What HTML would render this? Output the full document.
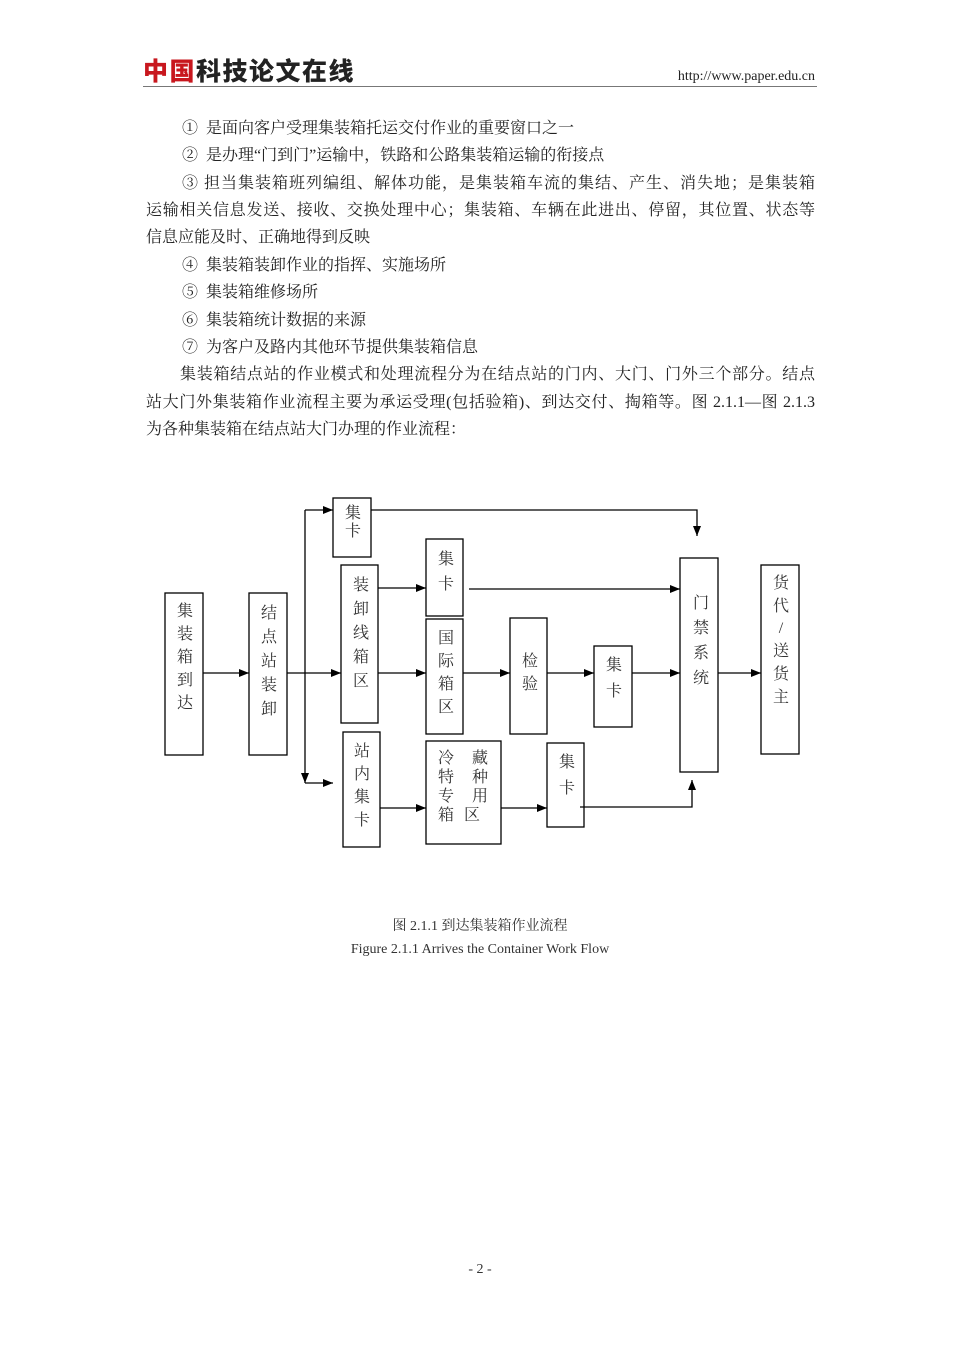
<!DOCTYPE html>
<html><head><meta charset="utf-8"><style>
body{margin:0;background:#fff;}
#p{position:relative;width:960px;height:1357px;overflow:hidden;background:#fff;font-family:"Liberation Serif","Noto Serif CJK SC","Noto Sans CJK SC",serif;color:#222;}
.l{position:absolute;font-size:16px;line-height:20px;white-space:nowrap;}
.j{left:146px;width:669px;text-align:justify;text-align-last:justify;}
.i{left:182px;}
</style></head><body><div id="p">
<div style="position:absolute;left:143px;top:55px;font-family:'Noto Sans CJK SC',sans-serif;font-weight:900;font-size:25px;line-height:30px;letter-spacing:1.5px"><span style="color:#c8171e">中国</span><span style="color:#222">科技论文在线</span></div>
<div class="l" style="right:145px;top:67px;font-size:14px;">http://www.paper.edu.cn</div>
<div style="position:absolute;left:143px;top:86px;width:674px;height:1px;background:#777"></div>

<div class="l i" style="top:119px">①&nbsp; 是面向客户受理集装箱托运交付作业的重要窗口之一</div>
<div class="l i" style="top:146px">②&nbsp; 是办理“门到门”运输中，铁路和公路集装箱运输的衔接点</div>
<div class="l j" style="top:174px;left:182px;width:633px">③ 担当集装箱班列编组、解体功能，是集装箱车流的集结、产生、消失地；是集装箱</div>
<div class="l j" style="top:201px">运输相关信息发送、接收、交换处理中心；集装箱、车辆在此进出、停留，其位置、状态等</div>
<div class="l" style="left:146px;top:228px">信息应能及时、正确地得到反映</div>
<div class="l i" style="top:256px">④&nbsp; 集装箱装卸作业的指挥、实施场所</div>
<div class="l i" style="top:283px">⑤&nbsp; 集装箱维修场所</div>
<div class="l i" style="top:311px">⑥&nbsp; 集装箱统计数据的来源</div>
<div class="l i" style="top:338px">⑦&nbsp; 为客户及路内其他环节提供集装箱信息</div>
<div class="l j" style="top:365px;left:180px;width:635px">集装箱结点站的作业模式和处理流程分为在结点站的门内、大门、门外三个部分。结点</div>
<div class="l j" style="top:393px">站大门外集装箱作业流程主要为承运受理(包括验箱)、到达交付、掏箱等。图 2.1.1—图 2.1.3</div>
<div class="l" style="left:146px;top:420px">为各种集装箱在结点站大门办理的作业流程：</div>

<svg style="position:absolute;left:0;top:0" width="960" height="1357" font-family="Liberation Serif, Noto Serif CJK SC, serif" font-size="16" fill="#333">
<defs><marker id="a" markerWidth="10" markerHeight="8" refX="10" refY="4" orient="auto" markerUnits="userSpaceOnUse"><path d="M0,0L10,4L0,8z" fill="#000"/></marker></defs>
<g fill="none" stroke="#000" stroke-width="1.3">
<rect x="165" y="593" width="38" height="162"/>
<rect x="249" y="593" width="38" height="162"/>
<rect x="333" y="498" width="38" height="59"/>
<rect x="341" y="565" width="37" height="158"/>
<rect x="343" y="732" width="37" height="115"/>
<rect x="426" y="539" width="37" height="77"/>
<rect x="426" y="619" width="37" height="115"/>
<rect x="426" y="741" width="75" height="103"/>
<rect x="510" y="618" width="37" height="116"/>
<rect x="594" y="646" width="38" height="81"/>
<rect x="547" y="743" width="37" height="84"/>
<rect x="680" y="558" width="38" height="214"/>
<rect x="761" y="565" width="38" height="189"/>
</g>
<g fill="none" stroke="#000" stroke-width="1.3" marker-end="url(#a)">
<path d="M203,673H249"/>
<path d="M287,673H341"/>
<path d="M305,510V783"/>
<path d="M305,510H333"/>
<path d="M305,783H333"/>
<path d="M371,510H697V536"/>
<path d="M378,588H426"/>
<path d="M378,673H426"/>
<path d="M469,589H680"/>
<path d="M463,673H510"/>
<path d="M547,673H594"/>
<path d="M632,673H680"/>
<path d="M718,673H761"/>
<path d="M380,808H426"/>
<path d="M501,808H547"/>
<path d="M580,807H692V780"/>
</g>
<g text-anchor="middle">
<text x="185" y="616">集</text><text x="185" y="639">装</text><text x="185" y="662">箱</text><text x="185" y="685">到</text><text x="185" y="708">达</text>
<text x="269" y="618">结</text><text x="269" y="642">点</text><text x="269" y="666">站</text><text x="269" y="690">装</text><text x="269" y="714">卸</text>
<text x="353" y="518">集</text><text x="353" y="536">卡</text>
<text x="361" y="590">装</text><text x="361" y="614">卸</text><text x="361" y="638">线</text><text x="361" y="662">箱</text><text x="361" y="686">区</text>
<text x="362" y="756">站</text><text x="362" y="779">内</text><text x="362" y="802">集</text><text x="362" y="825">卡</text>
<text x="446" y="564">集</text><text x="446" y="589">卡</text>
<text x="446" y="643">国</text><text x="446" y="666">际</text><text x="446" y="689">箱</text><text x="446" y="712">区</text>
<text x="446" y="763">冷</text><text x="446" y="782">特</text><text x="446" y="801">专</text><text x="446" y="820">箱</text>
<text x="480" y="763">藏</text><text x="480" y="782">种</text><text x="480" y="801">用</text><text x="472" y="820">区</text>
<text x="530" y="666">检</text><text x="530" y="689">验</text>
<text x="614" y="670">集</text><text x="614" y="696">卡</text>
<text x="567" y="767">集</text><text x="567" y="793">卡</text>
<text x="701" y="608">门</text><text x="701" y="633">禁</text><text x="701" y="658">系</text><text x="701" y="683">统</text>
<text x="781" y="588">货</text><text x="781" y="611">代</text><text x="781" y="633">/</text><text x="781" y="656">送</text><text x="781" y="679">货</text><text x="781" y="702">主</text>
</g>
<text x="480" y="930" text-anchor="middle" font-size="14">图 2.1.1  到达集装箱作业流程</text>
<text x="480" y="953" text-anchor="middle" font-size="14">Figure 2.1.1 Arrives the Container Work Flow</text>
<text x="480" y="1273" text-anchor="middle" font-size="14">- 2 -</text>
</svg>
</div></body></html>
